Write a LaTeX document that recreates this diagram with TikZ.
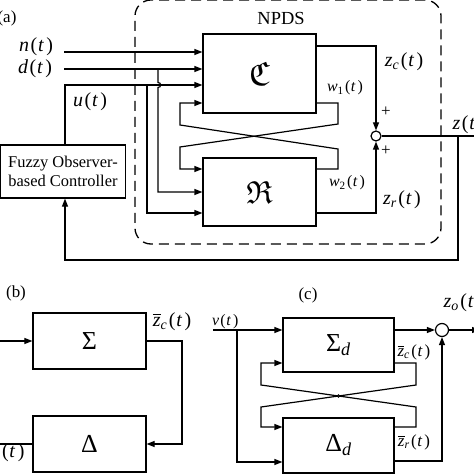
\documentclass[tikz,border=0pt]{standalone}
\usepackage{amssymb}
\usepackage{fontspec}
\setmainfont{Liberation Serif}
\usetikzlibrary{arrows.meta}
\newcommand{\sgl}[1]{#1\kern.08em(\kern.04em\textit{t}\kern.12em)}
\newcommand{\zbar}{\(\overline{\mbox{\textit{z}}}\)}
\begin{document}
\begin{tikzpicture}[x=1bp,y=-1bp,line width=1.2bp,
  box/.style={draw,rectangle,inner sep=0pt,line width=1.2bp},
  arr/.style={-{Triangle[length=8bp,width=6bp]}},
  lbl/.style={inner sep=0pt,font=\fontsize{20}{22}\selectfont},
  slbl/.style={inner sep=0pt,font=\fontsize{16}{18}\selectfont},
  txt/.style={inner sep=0pt,font=\fontsize{17}{19}\selectfont},
  sumc/.style={draw,circle,inner sep=0pt,fill=white}]
\clip (0,0) rectangle (474,474);
\fill[white] (0,0) rectangle (474,474);
% ---------- (a)
\node[txt,anchor=west] (la) at (-3,18) {(a)};
\node[draw,dashed,dash pattern=on 10bp off 6bp,line width=1.3bp,rounded corners=16bp,
  minimum width=306bp,minimum height=244bp,inner sep=0pt] (npds) at (288,122) {};
\node[txt,font=\fontsize{18.5}{20}\selectfont] (lnpds) at (281,18) {NPDS};
\node[box,minimum width=113bp,minimum height=79bp] (C) at (259.5,73.5) {\fontsize{34}{36}\selectfont$\mathfrak{C}$};
\node[box,minimum width=113bp,minimum height=68bp] (R) at (259.5,192) {\fontsize{32}{34}\selectfont$\mathfrak{R}$};
\node[box,minimum width=125bp,minimum height=53bp,align=center,font=\fontsize{16.5}{18.5}\selectfont] (ctrl) at (63,171.5) {Fuzzy Observer-\\based Controller};
\node[sumc,minimum size=10bp] (s1) at (376,136) {};
\node[lbl] (ln) at (36,47) {\sgl{\textit{n}}};
\node[lbl] (ld) at (35,69) {\sgl{\textit{d}}};
\node[lbl] (lu) at (90,102) {\sgl{\textit{u}}};
\node[lbl] (lzc) at (404,62) {\sgl{\textit{z}\textsubscript{\textit{c}}}};
\node[lbl] (lzr) at (402,200) {\sgl{\textit{z}\textsubscript{\textit{r}}}};
\node[slbl] (lw1) at (345,88) {\sgl{\textit{w}\textsubscript{1}}};
\node[slbl] (lw2) at (347,183) {\sgl{\textit{w}\textsubscript{2}}};
\node[txt] (p1) at (386,112) {+};
\node[txt] (p2) at (386,151) {+};
\node[lbl,anchor=west] (lz) at (452,125) {\sgl{\textit{z}}};
\coordinate (nS) at (64,52);
\coordinate (dS) at (64,69);
\coordinate (uB) at (65,145);
\coordinate (yU) at (0,85);
\coordinate (dJ) at (158,69);
\coordinate (uJ) at (147,85);
\draw[arr] (nS) -- (nS -| C.west);
\draw[arr] (dS) -- (dS -| C.west);
\draw[arr] (uB) |- (yU -| C.west);
\draw[arr] (dJ) -- (158,82.5) .. controls (161.5,82.5) and (161.5,87.5) .. (158,87.5) |- (R.west);
\draw[arr] (uJ) |- (R.west |- 0,213);
% cross
\draw[arr] (C.east |- 0,103) -- (338,103) -- (338,124) -- (180,147) -- (180,169) -- (R.west |- 0,169);
\draw[arr] (R.east |- 0,169) -- (338,169) -- (338,149) -- (180,125) -- (180,103) -- (C.west |- 0,103);
\draw[arr] (C.east |- 0,46) -| (s1.north);
\draw[arr] (R.east |- 0,213) -| (s1.south);
\coordinate (oB) at (458,136);
\draw (s1.east) -- (480,136);
\draw[arr] (oB) -- (458,260) -| (ctrl.south -| uB);
% ---------- (b)
\node[txt] (lb) at (16,293) {(b)};
\node[box,minimum width=113bp,minimum height=56bp] (Sig) at (89.5,341) {\fontsize{26}{28}\selectfont Σ};
\node[box,minimum width=113bp,minimum height=56bp] (Del) at (89.5,444) {\fontsize{26}{28}\selectfont Δ};
\coordinate (bIn) at (0,341);
\coordinate (bOut) at (0,444);
\draw[arr] (bIn) -- (Sig.west);
\draw[arr] (Sig.east) -- (182,341) |- (Del.east);
\draw (Del.west) -- (bOut);
\node[lbl] (lzcb) at (172,322) {\sgl{\zbar\textsubscript{\textit{c}}}};
\node[lbl,anchor=east] (lzrb) at (25,453) {\sgl{\zbar\textsubscript{\textit{r}}}};
% ---------- (c)
\node[txt] (lc) at (308,295) {(c)};
\node[box,minimum width=111bp,minimum height=54bp] (Sd) at (338.5,345) {\fontsize{26}{28}\selectfont Σ\textsubscript{\textit{d}}};
\node[box,minimum width=111bp,minimum height=55bp] (Dd) at (338.5,445.5) {\fontsize{26}{28}\selectfont Δ\textsubscript{\textit{d}}};
\node[sumc,minimum size=13bp] (s2) at (442,330) {};
\node[slbl,anchor=east] (lv) at (239,322) {\sgl{\textit{v}}};
\node[lbl,anchor=west] (lzo) at (443,303) {\sgl{\textit{z}\textsubscript{\textit{o}}}};
\node[slbl,font=\fontsize{17}{19}\selectfont] (lzcc) at (414,352) {\sgl{\zbar\textsubscript{\textit{c}}}};
\node[slbl,font=\fontsize{17}{19}\selectfont] (lzrc) at (414,442) {\sgl{\zbar\textsubscript{\textit{r}}}};
\coordinate (vS) at (213,330);
\coordinate (vJ) at (237,330);
\draw (vS) -- (vJ);
\draw[arr] (vJ) -- (vJ -| Sd.west);
\draw[arr] (vJ) |- (Dd.west |- 0,462);
\draw[arr] (Sd.east |- s2) -- (s2.west);
\draw[arr] (s2.east) -- (480,330);
\draw[arr] (Dd.east |- 0,461) -| (s2.south);
\draw[arr] (Sd.east |- 0,363) -- (416,363) -- (416,385) -- (261,407) -- (261,427) -- (Dd.west |- 0,427);
\draw[arr] (Dd.east |- 0,427) -- (416,427) -- (416,407) -- (261,385) -- (261,363) -- (Sd.west |- 0,363);
\node[circle,draw,inner sep=0pt,minimum size=3bp,line width=0.6bp] (hop) at (338.5,396) {};
\end{tikzpicture}
\end{document}
